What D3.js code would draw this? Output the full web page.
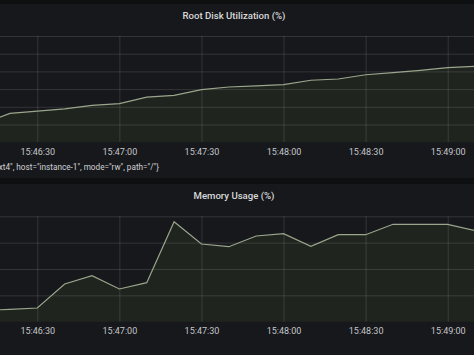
<!DOCTYPE html>
<html lang="en">
<head>
<meta charset="utf-8">
<title>Grafana panels</title>
<script src="https://d3js.org/d3.v7.min.js"></script>
<style>
  body { margin: 0; background: #0e0f11; overflow: hidden; }
  .title { font-family: Roboto, sans-serif; font-size: 9.6px; font-weight: 500; fill: #d8d9da; }
  .tick text { font-family: Roboto, sans-serif; font-size: 9px; fill: #c4c6c9; }
  .legend { font-family: Roboto, sans-serif; font-size: 8.2px; fill: #d0d2d5; }
</style>
</head>
<body>
<script>
// samples every 10s
const times = ["15:46:10", "15:46:20", "15:46:30", "15:46:40", "15:46:50", "15:47:00",
               "15:47:10", "15:47:20", "15:47:30", "15:47:40", "15:47:50", "15:48:00",
               "15:48:10", "15:48:20", "15:48:30", "15:48:40", "15:48:50", "15:49:00", "15:49:10"];
const diskValues = [21.03, 21.63, 21.76, 21.88, 22.08, 22.18, 22.55, 22.65, 22.97, 23.12,
                    23.18, 23.25, 23.50, 23.57, 23.81, 23.93, 24.06, 24.21, 24.29];
const memValues = [22.13, 22.35, 22.60, 27.15, 28.73, 26.21, 27.40, 38.98, 34.74, 34.23,
                   36.26, 36.70, 34.31, 36.51, 36.51, 38.48, 38.48, 38.48, 37.27];
const timeTicks = ["15:46:30", "15:47:00", "15:47:30", "15:48:00", "15:48:30", "15:49:00"];
const diskTicks = [20, 21, 22, 23, 24, 25, 26];
const memTicks = [20, 25, 30, 35, 40];
const legendText = '{device="/dev/sda1", fstype="ext4", host="instance-1", mode="rw", path="/"}';

const w = 474, h = 355;
const parseTime = d3.timeParse("%H:%M:%S");

const svg = d3.select("body").append("svg")
    .attr("width", w)
    .attr("height", h);

const x = d3.scaleTime()
    .domain([parseTime("15:46:30"), parseTime("15:49:00")])
    .range([37.3, 447.7]);

function panel(cfg) {
  const g = svg.append("g");

  g.append("rect")
    .attr("x", 0).attr("y", cfg.top)
    .attr("width", w).attr("height", cfg.bottom - cfg.top)
    .attr("fill", "#17181c");

  g.append("text")
    .attr("class", "title")
    .attr("x", 234).attr("y", cfg.titleY)
    .attr("text-anchor", "middle")
    .text(cfg.title);

  const y = d3.scaleLinear().domain(cfg.domain).range([cfg.plotBottom, cfg.plotTop]);
  const data = times.map((t, i) => ({ t: parseTime(t), v: cfg.values[i] }));

  // filled area under the series
  g.append("path")
    .datum(data)
    .attr("fill", "#1f251e")
    .attr("d", d3.area().x(d => x(d.t)).y0(cfg.plotBottom).y1(d => y(d.v)));

  // horizontal grid (y labels fall off the left edge, like the crop)
  g.append("g")
    .call(d3.axisLeft(y).tickValues(cfg.ticks.slice(1)).tickSize(-w).tickFormat(""))
    .call(a => a.select(".domain").remove())
    .call(a => a.selectAll(".tick line").attr("stroke", "#ffffff").attr("stroke-opacity", 0.12));

  // vertical grid + time labels
  g.append("g")
    .attr("transform", "translate(0," + cfg.plotBottom + ")")
    .call(d3.axisBottom(x)
      .tickValues(timeTicks.map(parseTime))
      .tickSize(-(cfg.plotBottom - cfg.plotTop))
      .tickPadding(6)
      .tickFormat(d3.timeFormat("%H:%M:%S")))
    .call(a => a.select(".domain").remove())
    .call(a => a.selectAll(".tick line").attr("stroke", "#ffffff").attr("stroke-opacity", 0.12));

  g.append("path")
    .datum(data)
    .attr("fill", "none")
    .attr("stroke", "#9aa68c")
    .attr("stroke-width", 1.2)
    .attr("d", d3.line().x(d => x(d.t)).y(d => y(d.v)));

  return g;
}

panel({
  top: 4, bottom: 178, titleY: 18.5, title: "Root Disk Utilization (%)",
  plotTop: 36, plotBottom: 142.2, domain: [20, 26], ticks: diskTicks, values: diskValues
});

svg.append("text")
  .attr("class", "legend")
  .attr("x", 159).attr("y", 169.5)
  .attr("text-anchor", "end")
  .text(legendText);

panel({
  top: 184, bottom: h, titleY: 199, title: "Memory Usage (%)",
  plotTop: 216.3, plotBottom: 321.7, domain: [20, 40], ticks: memTicks, values: memValues
});
</script>
</body>
</html>
